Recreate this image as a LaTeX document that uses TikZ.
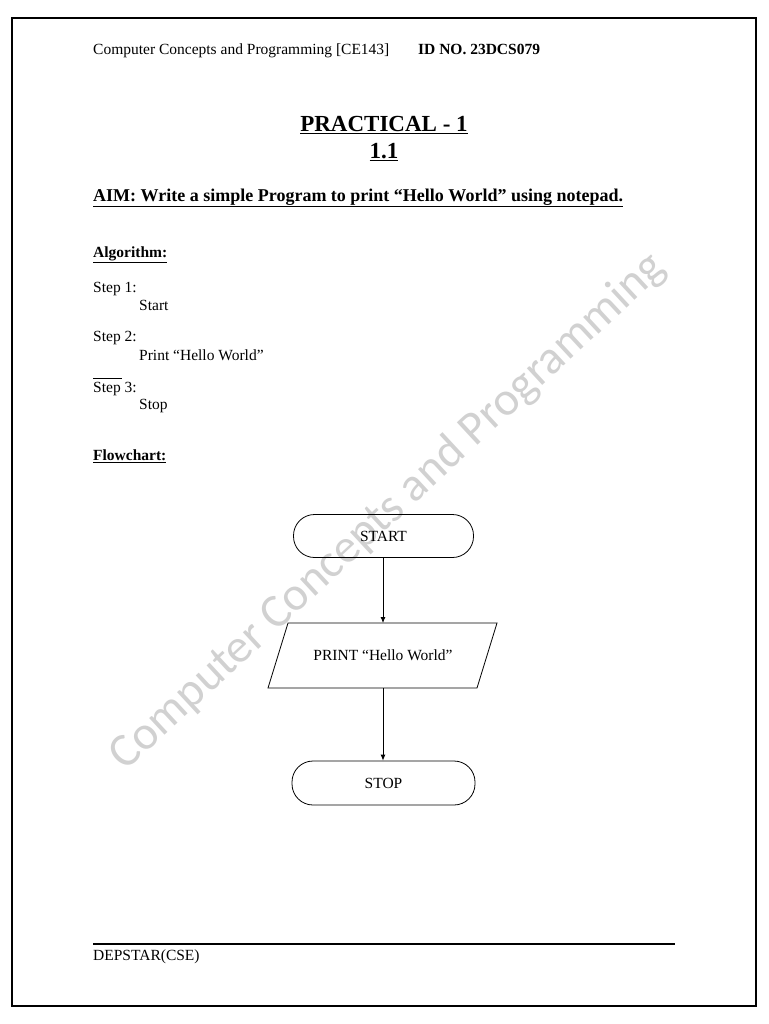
\documentclass[tikz,border=0pt]{standalone}
\usepackage{fontspec}
\setmainfont{Liberation Serif}
\newfontfamily\wmfont{Carlito}
\usetikzlibrary{arrows.meta}
\begin{document}
\begin{tikzpicture}[x=1pt,y=-1pt,
  txt/.style={inner sep=0pt,anchor=west,font=\fontsize{15.5}{17}\selectfont},
  term/.style={draw,rounded corners=21pt,minimum width=180pt,minimum height=43pt,font=\fontsize{15.5}{17}\selectfont,line width=0.8pt},
  arr/.style={-{Latex[length=6pt,width=5pt]},line width=0.8pt}]
\useasboundingbox (0,0) rectangle (768,1024);
\draw[line width=1.2pt] (12,18) rectangle (756,1006);
\node[opacity=0.18,rotate=42.8,font=\wmfont\fontsize{47.5}{48}\selectfont] (wm) at (388,512) {Computer Concepts and Programming};
\node[txt,anchor=base west] (h1) at (93,55) {Computer Concepts and Programming [CE143]};
\node[txt,anchor=base west,font=\bfseries\fontsize{15.5}{17}\selectfont] (h2) at (418,55) {ID NO. 23DCS079};
\node[inner sep=0pt,font=\bfseries\fontsize{23}{25}\selectfont] (t1) at (384,125) {\underline{PRACTICAL - 1}};
\node[inner sep=0pt,font=\bfseries\fontsize{23}{25}\selectfont] (t2) at (384,152) {\underline{1.1}};
\node[txt,font=\bfseries\fontsize{18}{20}\selectfont] (aim) at (93,198) {\underline{AIM: Write a simple Program to print “Hello World” using notepad.}};
\node[txt,font=\bfseries\fontsize{15.5}{17}\selectfont] (alg) at (93,255) {\underline{Algorithm:}};
\node[txt] (s1) at (93,289) {Step 1:};
\node[txt] (s1b) at (139,305) {Start};
\node[txt] (s2) at (93,338) {Step 2:};
\node[txt] (s2b) at (139,355) {Print “Hello World”};
\draw[line width=0.8pt] (93,378) -- (122,378);
\node[txt] (s3) at (93,389) {Step 3:};
\node[txt] (s3b) at (139,406) {Stop};
\node[txt,font=\bfseries\fontsize{15.5}{17}\selectfont] (fc) at (93,456) {\underline{Flowchart:}};
\node[term] (start) at (383.5,536) {START};
\draw[line width=0.8pt] (288,623) coordinate (pa) -- (497,623) -- (477,688) -- (268,688) -- cycle;
\coordinate (ptop) at (383,623);
\coordinate (pbot) at (383,688);
\node[font=\fontsize{15.5}{17}\selectfont] (print) at (383,655) {PRINT “Hello World”};
\node[term,minimum width=183pt,minimum height=44pt] (stop) at (383.5,783) {STOP};
\draw[arr] (start.south -| ptop) -- (ptop);
\draw[arr] (pbot) -- (stop.north -| pbot);
\draw[line width=2pt] (93,944) -- (675,944);
\node[txt] (foot) at (93,957) {DEPSTAR(CSE)};
\end{tikzpicture}
\end{document}
